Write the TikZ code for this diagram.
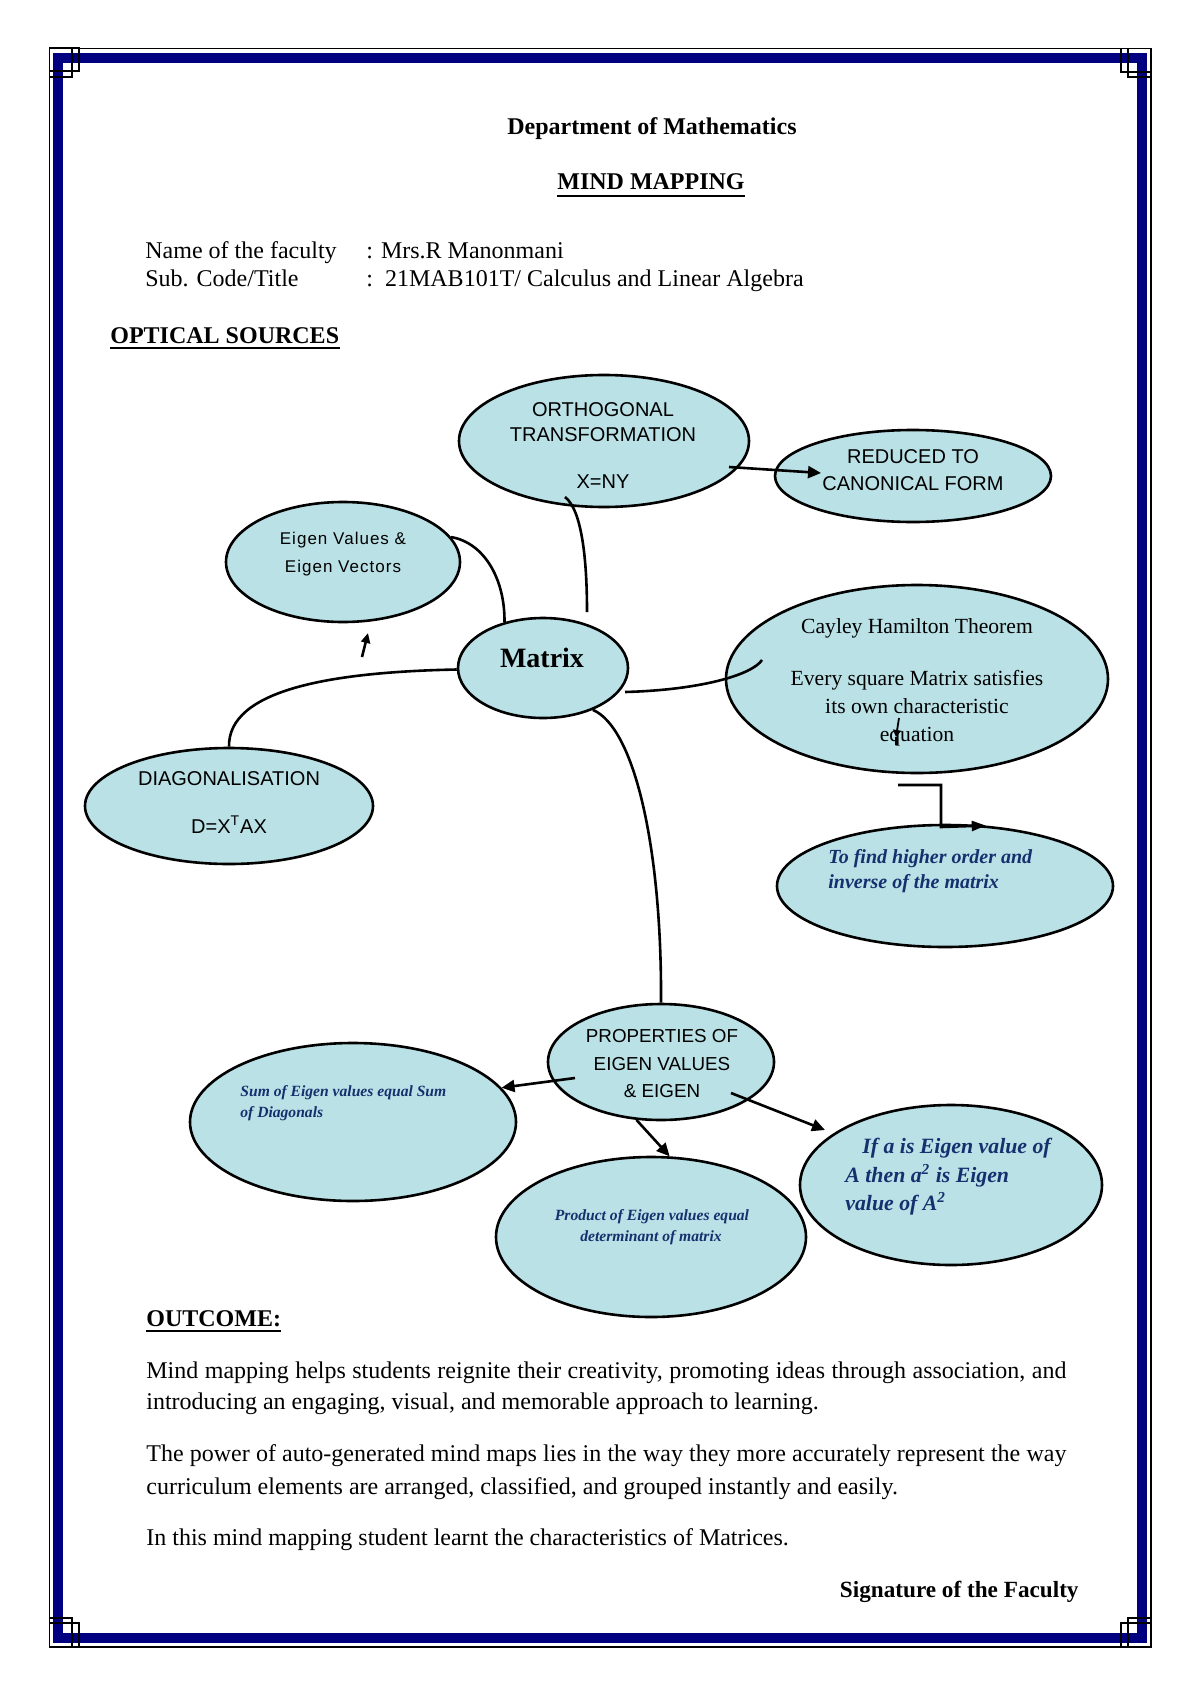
\documentclass[tikz,border=0pt]{standalone}
\usepackage{fontspec}
\setmainfont{Liberation Serif}
\setsansfont{Liberation Sans}
\newfontfamily\spsans[LetterSpace=6]{Liberation Sans}
\usetikzlibrary{shapes.geometric,arrows.meta}
\definecolor{ellfill}{RGB}{185,225,230}
\definecolor{navyb}{RGB}{0,0,128}
\definecolor{txtblue}{RGB}{22,48,110}
\tikzset{
  ell/.style={ellipse,draw=black,fill=ellfill,line width=1.3pt,inner sep=0pt},
  conn/.style={draw=black,line width=1.3pt},
  arr/.style={conn,-{Triangle[length=6.5pt,width=6pt]}},
  lbl/.style={inner sep=0pt,anchor=base},
  lblw/.style={inner sep=0pt,anchor=base west},
  capsf/.style={font=\sffamily\fontsize{10}{12}\selectfont},
  propf/.style={font=\sffamily\fontsize{9.4}{11}\selectfont},
  eigf/.style={font=\spsans\fontsize{8.5}{10}\selectfont},
  cayf/.style={font=\fontsize{10.8}{13}\selectfont},
  headf/.style={font=\bfseries\fontsize{12}{14}\selectfont},
  infof/.style={font=\fontsize{12}{14}\selectfont},
  bodyf/.style={font=\fontsize{12}{14}\selectfont},
  bluebig/.style={font=\bfseries\itshape\fontsize{10}{12}\selectfont,text=txtblue},
  blueif/.style={font=\bfseries\itshape\fontsize{10.9}{13}\selectfont,text=txtblue},
  bluesm/.style={font=\bfseries\itshape\fontsize{7.8}{9}\selectfont,text=txtblue},
  uline/.style={draw=black,line width=1.2pt},
  frameline/.style={draw=black,line width=0.8pt}
}
\begin{document}
\begin{tikzpicture}[x=0.5pt,y=-0.5pt]
\useasboundingbox (0,0) rectangle (1200,1696);
% page frame
\draw[navyb,line width=5pt] (58,58) rectangle (1142,1637.5);
\draw[frameline] (49.5,48.5) rectangle (1151,1647);
\draw[frameline] (49.5,47.5) rectangle (79,71);
\draw[frameline] (49.5,48.5) rectangle (72,77);
\draw[frameline] (1121,48.5) rectangle (1151,72);
\draw[frameline] (1128,48.5) rectangle (1151,77);
\draw[frameline] (49.5,1623) rectangle (79,1647);
\draw[frameline] (49.5,1618) rectangle (72,1647);
\draw[frameline] (1121,1623) rectangle (1151,1647);
\draw[frameline] (1128,1618) rectangle (1151,1647);

% header
\node[lbl,headf] (dept) at (652,135) {Department of Mathematics};
\node[lbl,headf] (mm) at (651,190) {MIND MAPPING};
\draw[uline] ([yshift=-3pt]mm.base west) -- ([yshift=-3pt]mm.base east);
\node[lblw,infof] (namel) at (145,258) {Name of the faculty};
\node[lblw,infof] (namev) at (366,258) {: Mrs.R Manonmani};
\node[lblw,infof] (subl) at (145,286) {Sub. Code/Title};
\node[lblw,infof] (subv) at (366,286) {:\hspace{6pt}21MAB101T/ Calculus and Linear Algebra};
\node[lblw,headf] (opt) at (110,343) {OPTICAL SOURCES};
\draw[uline] ([yshift=-2.5pt]opt.base west) -- ([yshift=-2.5pt]opt.base east);

% ellipses
\node[ell,minimum width=145pt,minimum height=66pt] (orth) at (604,441) {};
\node[ell,minimum width=138pt,minimum height=46pt] (red) at (913,476) {};
\node[ell,minimum width=117pt,minimum height=60pt] (eig) at (343,562) {};
\node[ell,minimum width=85pt,minimum height=50pt] (mat) at (543,668) {};
\node[ell,minimum width=191pt,minimum height=94pt] (cay) at (917,679) {};
\node[ell,minimum width=144pt,minimum height=58pt] (diag) at (229,806) {};
\node[ell,minimum width=168pt,minimum height=61pt] (find) at (945,886) {};
\node[ell,minimum width=113pt,minimum height=58pt] (prop) at (661,1062) {};
\node[ell,minimum width=163pt,minimum height=79pt] (sum) at (353,1122) {};
\node[ell,minimum width=155pt,minimum height=80pt] (prod) at (651,1237) {};
\node[ell,minimum width=151pt,minimum height=80pt] (ifa) at (951,1185) {};

% ellipse texts
\node[lbl,capsf] (orthA) at (603,416) {ORTHOGONAL};
\node[lbl,capsf] (orthB) at (603,441) {TRANSFORMATION};
\node[lbl,capsf] (orthC) at (603,488) {X=NY};
\node[lbl,capsf] (redA) at (913,463) {REDUCED TO};
\node[lbl,capsf] (redB) at (913,490) {CANONICAL FORM};
\node[lbl,eigf] (eigA) at (343,544) {Eigen Values \&};
\node[lbl,eigf] (eigB) at (343,572) {Eigen Vectors};
\node[lbl,font=\bfseries\fontsize{14}{16}\selectfont] (matT) at (542,667) {Matrix};
\node[lbl,cayf] (cayA) at (917,633) {Cayley Hamilton Theorem};
\node[lbl,cayf] (cayB) at (917,685) {Every square Matrix satisfies};
\node[lbl,cayf] (cayC) at (917,713) {its own characteristic};
\node[lbl,cayf] (cayD) at (917,741) {equation};
\node[lbl,capsf] (diagA) at (229,785) {DIAGONALISATION};
\node[lbl,capsf] (diagB) at (229,833) {D=X\textsuperscript{T}AX};
\node[lblw,bluebig] (findA) at (828,863) {To find higher order and};
\node[lblw,bluebig] (findB) at (828,888) {inverse of the matrix};
\node[lbl,propf] (propA) at (662,1042) {PROPERTIES OF};
\node[lbl,propf] (propB) at (662,1070) {EIGEN VALUES};
\node[lbl,propf] (propC) at (662,1097) {\& EIGEN};
\node[lblw,bluesm] (sumA) at (240,1096) {Sum of Eigen values equal Sum};
\node[lblw,bluesm] (sumB) at (240,1117) {of Diagonals};
\node[lbl,bluesm] (prodA) at (652,1220) {Product of Eigen values equal};
\node[lbl,bluesm] (prodB) at (651,1241) {determinant of matrix};
\node[lblw,blueif] (ifA) at (862,1153) {If a is Eigen value of};
\node[lblw,blueif] (ifB) at (845,1182) {A then a\textsuperscript{2} is Eigen};
\node[lblw,blueif] (ifC) at (845,1210) {value of A\textsuperscript{2}};

% free ends
\coordinate (c2a) at (565,497);
\coordinate (c2b) at (587,612);
\coordinate (c3a) at (625,692);
\coordinate (c3b) at (762,660);
\coordinate (c5a) at (898,785);
\coordinate (c7a) at (575,1078);
\coordinate (c9a) at (731,1093);
\coordinate (c9b) at (825,1130);
\coordinate (c10a) at (362,657);
\coordinate (c10b) at (368,633);
\coordinate (c0a) at (729,467);
\coordinate (c0b) at (821,473);
\coordinate (q1) at (899,718);
\coordinate (q2) at (896,737);
\coordinate (q3) at (896,745);

% connectors
\draw[arr] (c0a) -- (c0b);
\draw[conn] (eig.13) .. controls (485,543) and (505,580) .. (mat.130);
\draw[conn] (c2a) .. controls (582,510) and (587,560) .. (c2b);
\draw[conn] (c3a) .. controls (700,690) and (752,675) .. (c3b);
\draw[conn] (mat.181) .. controls (330,672) and (228,690) .. (diag.north);
\draw[conn,-{Triangle[length=7pt,width=5pt]}] (c5a) -| (941,827) -- (find.56);
\draw[conn] (mat.-40) .. controls (635,728) and (662,850) .. (prop.north);
\draw[arr] (c7a) -- (sum.13);
\draw[arr] (prop.-113) -- (prod.77);
\draw[arr] (c9a) -- (c9b);
\draw[conn,-{Triangle[length=5pt,width=4.5pt]}] (c10a) -- (c10b);
\draw[conn,line width=0.9pt,-{Triangle[length=3.5pt,width=4pt]}] (q1) -- (q2);
\draw[conn,line width=0.9pt] (q2) -- (q3);

% outcome
\node[lblw,headf] (outc) at (146,1326) {OUTCOME:};
\draw[uline] ([yshift=-2.5pt]outc.base west) -- ([yshift=-2.5pt]outc.base east);
\node[lblw,bodyf] (p1a) at (146,1378) {\makebox[460pt][s]{Mind mapping helps students reignite their creativity, promoting ideas through association, and}};
\node[lblw,bodyf] (p1b) at (146,1409) {introducing an engaging, visual, and memorable approach to learning.};
\node[lblw,bodyf] (p2a) at (146,1461) {\makebox[460pt][s]{The power of auto-generated mind maps lies in the way they more accurately represent the way}};
\node[lblw,bodyf] (p2b) at (146,1494) {curriculum elements are arranged, classified, and grouped instantly and easily.};
\node[lblw,bodyf] (p3) at (146,1545) {In this mind mapping student learnt the characteristics of Matrices.};
\node[inner sep=0pt,anchor=base east,font=\bfseries\fontsize{11.6}{14}\selectfont] (sig) at (1079,1597) {Signature of the Faculty};
\end{tikzpicture}
\end{document}
